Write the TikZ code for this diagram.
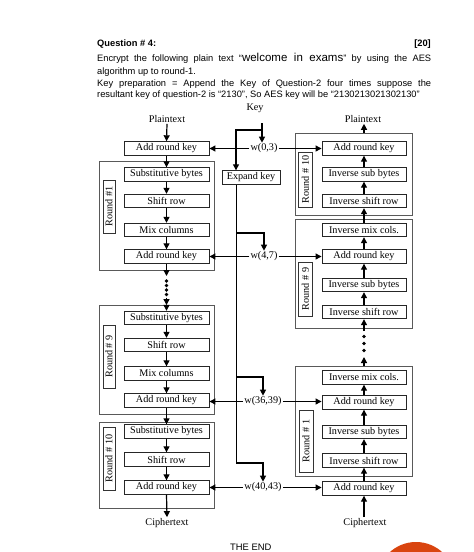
\documentclass[tikz,border=0pt]{standalone}
\usepackage{fontspec}
\setmainfont{Liberation Serif}
\newfontfamily\arialf{Liberation Sans}
\usetikzlibrary{arrows.meta}
\definecolor{endorange}{HTML}{D9440F}
\begin{document}
\begin{tikzpicture}[x=1pt,y=-1pt,
  blk/.style={draw=black!85, line width=0.9pt, minimum height=13.5pt, inner sep=0pt, font=\fontsize{10.2}{12}\selectfont},
  lbox/.style={blk, minimum width=85pt},
  rbox/.style={blk, minimum width=84pt},
  rnd/.style={draw=black!65, line width=0.9pt, inner sep=0pt},
  rlab/.style={draw=black!80, line width=0.8pt, rotate=90, inner sep=0pt, font=\fontsize{10.2}{12}\selectfont},
  lab/.style={font=\fontsize{10.2}{12}\selectfont, inner sep=1pt},
  arr/.style={line width=1.2pt, -{Triangle[length=6pt,width=6pt]}},
  ln/.style={line width=1pt},
  dotn/.style={circle, fill=black, inner sep=0pt, minimum size=3.6pt},
  hdr/.style={font=\arialf\fontsize{9.3}{10}\selectfont, inner sep=0pt, anchor=base west}
]
\useasboundingbox (0,0) rectangle (474,552);
\clip (0,0) rectangle (474,552);

% header text
\node[hdr, font=\arialf\bfseries\fontsize{9.3}{10}\selectfont] (q) at (97,46.5) {Question \# 4:};
\node[hdr, font=\arialf\bfseries\fontsize{9.3}{10}\selectfont, anchor=base east] (pts) at (431,46.5) {[20]};
\node[hdr] (l1) at (97,61.5) {\makebox[334pt][s]{Encrypt the following plain text “{\fontsize{11.5}{12}\selectfont welcome in exams}” by using the AES}};
\node[hdr] (l2) at (97,74.5) {algorithm up to round-1.};
\node[hdr] (l3) at (97,86.5) {\makebox[334pt][s]{Key preparation = Append the Key of Question-2 four times suppose the}};
\node[hdr] (l4) at (97,97.5) {resultant key of question-2 is “2130”, So AES key will be “2130213021302130”};

% ---------- left column (encryption) ----------
\node[lab] (pt1) at (167,119) {Plaintext};
\node[lbox] (ark0) at (166.5,148.5) {Add round key};

\node[rnd, minimum width=115pt, minimum height=109pt] (R1) at (156.5,215.5) {};
\node[lbox] (sb1) at (166.5,174.5) {Substitutive bytes};
\node[lbox] (sr1) at (166.5,201) {Shift row};
\node[lbox] (mc1) at (166.5,230) {Mix columns};
\node[lbox] (ark1) at (166.5,256.5) {Add round key};
\node[rlab, minimum width=53pt, minimum height=12pt] (lr1) at (109,206.5) {Round \#1};

\node[rnd, minimum width=115pt, minimum height=109pt] (R9) at (156.5,360) {};
\node[lbox] (sb9) at (166.5,318) {Substitutive bytes};
\node[lbox] (sr9) at (166.5,345) {Shift row};
\node[lbox] (mc9) at (166.5,373.5) {Mix columns};
\node[lbox] (ark9) at (166.5,400.5) {Add round key};
\node[rlab, minimum width=63pt, minimum height=12pt] (lr9) at (109,356.5) {Round \# 9};

\node[rnd, minimum width=115pt, minimum height=86pt] (R10) at (156.5,465) {};
\node[lbox] (sb10) at (166.5,431.5) {Substitutive bytes};
\node[lbox] (sr10) at (166.5,459.5) {Shift row};
\node[lbox] (ark10) at (166.5,487.5) {Add round key};
\node[rlab, minimum width=63pt, minimum height=12pt] (lr10) at (109,458.5) {Round \# 10};

\node[lab] (ct1) at (167,523) {Ciphertext};

\draw[arr] (pt1.south) -- (ark0.north);
\draw[arr] (ark0.south) -- (sb1.north);
\draw[arr] (sb1.south) -- (sr1.north);
\draw[arr] (sr1.south) -- (mc1.north);
\draw[arr] (mc1.south) -- (ark1.north);
\coordinate (ld1) at (166.5,276);
\coordinate (ld2) at (166.5,297.5);
\draw[arr] (ark1.south) -- (ld1);
\node[dotn] (dl1) at (166.5,281) {};
\node[dotn] (dl2) at (166.5,285.5) {};
\node[dotn] (dl3) at (166.5,290) {};
\node[dotn] (dl4) at (166.5,294.5) {};
\draw[arr] (ld2) -- (R9.north -| ld2);
\draw[arr] (R9.north -| ld2) -- (sb9.north);
\draw[arr] (sb9.south) -- (sr9.north);
\draw[arr] (sr9.south) -- (mc9.north);
\draw[arr] (mc9.south) -- (ark9.north);
\draw[arr] (ark9.south) -- (sb10.north);
\draw[arr] (sb10.south) -- (sr10.north);
\draw[arr] (sr10.south) -- (ark10.north);
\draw[arr] (ark10.south) -- (ct1.north);

% ---------- key schedule ----------
\node[lab] (key) at (255,108) {Key};
\node[lab] (w0) at (264,148.5) {w(0,3)};
\node[blk, minimum width=58pt] (ek) at (251,177.5) {Expand key};
\node[lab] (w4) at (264,256.5) {w(4,7)};
\node[lab] (w36) at (263,401.5) {w(36,39)};
\node[lab] (w40) at (263,487.5) {w(40,43)};

\coordinate (k0) at (262,123);
\coordinate (kb) at (262,130);
\coordinate (kc) at (236,130);
\coordinate (b1) at (236,233);
\coordinate (b2) at (236,377);
\coordinate (b3) at (236,463);

\draw[arr] (k0) -- (k0 |- w0.north);
\draw[arr] (kb) -- (kc) -- (kc |- ek.north);
\draw[ln] (ek.south -| kc) -- (b3);
\draw[arr] (b1) -- (b1 -| w4) -- (w4.north);
\draw[arr] (b2) -- (b2 -| w36) -- (w36.north);
\draw[arr] (b3) -- (b3 -| w40) -- (w40.north);

% ---------- right column (decryption) ----------
\node[lab] (pt2) at (363,119) {Plaintext};

\node[rnd, minimum width=117pt, minimum height=82pt] (Q10) at (353.5,174) {};
\node[rbox] (rark10) at (364,148.5) {Add round key};
\node[rbox] (risb10) at (364,174.5) {Inverse sub bytes};
\node[rbox] (risr10) at (364,201) {Inverse shift row};
\node[rlab, minimum width=55pt, minimum height=14pt] (rl10) at (305.5,179.5) {Round \# 10};

\node[rnd, minimum width=117pt, minimum height=109pt] (Q9) at (353.5,273.5) {};
\node[rbox] (rimc9) at (364,230) {Inverse mix cols.};
\node[rbox] (rark9) at (364,256.5) {Add round key};
\node[rbox] (risb9) at (364,285) {Inverse sub bytes};
\node[rbox] (risr9) at (364,312) {Inverse shift row};
\node[rlab, minimum width=54pt, minimum height=14pt] (rl9) at (305.5,289) {Round \# 9};

\node[rnd, minimum width=117pt, minimum height=110pt] (Q1) at (353.5,421) {};
\node[rbox] (rimc1) at (364,377.5) {Inverse mix cols.};
\node[rbox] (rark1) at (364,402.5) {Add round key};
\node[rbox] (risb1) at (364,432) {Inverse sub bytes};
\node[rbox] (risr1) at (364,460.5) {Inverse shift row};
\node[rlab, minimum width=62pt, minimum height=14pt] (rl1) at (306,441) {Round \# 1};

\node[rbox] (rark0) at (364,488.5) {Add round key};
\node[lab] (ct2) at (365,523) {Ciphertext};

\draw[arr] (Q10.north -| rark10) -- (pt2.south -| rark10);
\draw[arr] (risb10.north) -- (rark10.south);
\draw[arr] (risr10.north) -- (risb10.south);
\draw[arr] (rimc9.north) -- (risr10.south);
\draw[arr] (rark9.north) -- (rimc9.south);
\draw[arr] (risb9.north) -- (rark9.south);
\draw[arr] (risr9.north) -- (risb9.south);
\coordinate (rd1) at (364,331);
\coordinate (rd2) at (364,357);
\draw[arr] (rd1) -- (risr9.south);
\node[dotn] (dr1) at (364,336.5) {};
\node[dotn] (dr2) at (364,343.5) {};
\node[dotn] (dr3) at (364,350.5) {};
\draw[arr] (Q1.north -| rd2) -- (rd2);
\draw[arr] (rark1.north) -- (rimc1.south);
\draw[arr] (risb1.north) -- (rark1.south);
\draw[arr] (risr1.north) -- (risb1.south);
\draw[arr] (rark0.north) -- (risr1.south);
\draw[arr] (ct2.north -| rark0) -- (rark0.south);

% ---------- round key arrows ----------
\draw[arr] (w0.west) -- (w0.west -| ark0.east);
\draw[arr] (w0.east) -- (w0.east -| rark10.west);
\draw[arr] (w4.west) -- (w4.west -| ark1.east);
\draw[arr] (w4.east) -- (w4.east -| rark9.west);
\draw[arr] (w36.west) -- (w36.west -| ark9.east);
\draw[arr] (w36.east) -- (w36.east -| rark1.west);
\draw[arr] (w40.west) -- (w40.west -| ark10.east);
\draw[arr] (w40.east) -- (w40.east -| rark0.west);

% ---------- footer ----------
\node[hdr, font=\arialf\fontsize{9.4}{10}\selectfont] (theend) at (230,550.5) {THE END};
\fill[endorange] (416,581) circle[radius=39];
\end{tikzpicture}
\end{document}
